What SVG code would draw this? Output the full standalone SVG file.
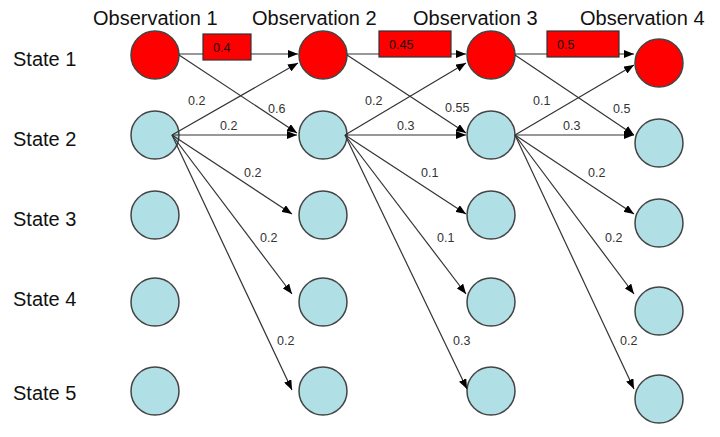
<svg xmlns="http://www.w3.org/2000/svg" width="720" height="437" viewBox="0 0 720 437">
<style>
.title{font-family:"Liberation Sans",Arial,sans-serif;font-size:20px;fill:#111}
.lab{font-family:"Liberation Sans",Arial,sans-serif;font-size:12.5px;fill:#333}
.bl{font-family:"Liberation Sans",Arial,sans-serif;font-size:12.5px;fill:#111}
.red{fill:#ff0000;stroke:#444;stroke-width:1.5}
.blue{fill:#b0e0e6;stroke:#444;stroke-width:1.5}
.box{fill:#ff0000;stroke:#333;stroke-width:1.2}
.ln{stroke:#333;stroke-width:1.2;fill:none;marker-end:url(#ah)}
</style>
<defs>
<marker id="ah" markerUnits="userSpaceOnUse" markerWidth="10" markerHeight="8" refX="10" refY="4" orient="auto">
<path d="M0,0 L10,4 L0,8 z" fill="#000"/>
</marker>
</defs>
<rect width="720" height="437" fill="#fff"/>
<g id="titles">
<text class="title" x="93" y="25">Observation 1</text>
<text class="title" x="252" y="25">Observation 2</text>
<text class="title" x="413" y="25">Observation 3</text>
<text class="title" x="580" y="25">Observation 4</text>
<text class="title" x="13" y="66">State 1</text>
<text class="title" x="13" y="146">State 2</text>
<text class="title" x="13" y="226">State 3</text>
<text class="title" x="13" y="306">State 4</text>
<text class="title" x="13" y="400">State 5</text>
</g>
<g id="o1s1"><circle class="red" cx="155" cy="55" r="24"/></g>
<g id="o1s2"><circle class="blue" cx="155" cy="135" r="24"/></g>
<g id="o1s3"><circle class="blue" cx="155" cy="215" r="24"/></g>
<g id="o1s4"><circle class="blue" cx="155" cy="302" r="24"/></g>
<g id="o1s5"><circle class="blue" cx="155" cy="391" r="24"/></g>
<g id="o2s1"><circle class="red" cx="323" cy="55" r="24"/></g>
<g id="o2s2"><circle class="blue" cx="323" cy="135" r="24"/></g>
<g id="o2s3"><circle class="blue" cx="323" cy="215" r="24"/></g>
<g id="o2s4"><circle class="blue" cx="323" cy="302" r="24"/></g>
<g id="o2s5"><circle class="blue" cx="323" cy="391" r="24"/></g>
<g id="o3s1"><circle class="red" cx="491" cy="55" r="24"/></g>
<g id="o3s2"><circle class="blue" cx="491" cy="135" r="24"/></g>
<g id="o3s3"><circle class="blue" cx="491" cy="215" r="24"/></g>
<g id="o3s4"><circle class="blue" cx="491" cy="302" r="24"/></g>
<g id="o3s5"><circle class="blue" cx="491" cy="391" r="24"/></g>
<g id="o4s1"><circle class="red" cx="659" cy="63" r="24"/></g>
<g id="o4s2"><circle class="blue" cx="659" cy="143" r="24"/></g>
<g id="o4s3"><circle class="blue" cx="659" cy="223" r="24"/></g>
<g id="o4s4"><circle class="blue" cx="659" cy="311" r="24"/></g>
<g id="o4s5"><circle class="blue" cx="659" cy="399" r="24"/></g>
<g id="connectors">
<line class="ln" x1="179" y1="54" x2="298" y2="54"/>
<line class="ln" x1="347" y1="54" x2="466" y2="54"/>
<line class="ln" x1="515" y1="54" x2="634" y2="54"/>
<line class="ln" x1="179" y1="55" x2="297" y2="133"/>
<line class="ln" x1="172" y1="135" x2="298" y2="63"/>
<line class="ln" x1="172" y1="135" x2="297" y2="135"/>
<line class="ln" x1="172" y1="135" x2="292" y2="214"/>
<line class="ln" x1="172" y1="135" x2="292" y2="294"/>
<line class="ln" x1="172" y1="135" x2="292" y2="390"/>
<line class="ln" x1="347" y1="55" x2="466" y2="133"/>
<line class="ln" x1="345" y1="135" x2="466" y2="63"/>
<line class="ln" x1="345" y1="135" x2="466" y2="135"/>
<line class="ln" x1="345" y1="135" x2="466" y2="214"/>
<line class="ln" x1="345" y1="135" x2="466" y2="294"/>
<line class="ln" x1="345" y1="135" x2="467" y2="389"/>
<line class="ln" x1="515" y1="55" x2="634" y2="135"/>
<line class="ln" x1="515" y1="135" x2="634" y2="65"/>
<line class="ln" x1="515" y1="135" x2="634" y2="135"/>
<line class="ln" x1="515" y1="135" x2="634" y2="214"/>
<line class="ln" x1="515" y1="135" x2="634" y2="294"/>
<line class="ln" x1="515" y1="135" x2="634" y2="389"/>
<text class="lab" x="188" y="105">0.2</text>
<text class="lab" x="268" y="113">0.6</text>
<text class="lab" x="220" y="130">0.2</text>
<text class="lab" x="244" y="177">0.2</text>
<text class="lab" x="260" y="242">0.2</text>
<text class="lab" x="277" y="345">0.2</text>
<text class="lab" x="365" y="105">0.2</text>
<text class="lab" x="445" y="112">0.55</text>
<text class="lab" x="397" y="130">0.3</text>
<text class="lab" x="421" y="177">0.1</text>
<text class="lab" x="437" y="242">0.1</text>
<text class="lab" x="453" y="345">0.3</text>
<text class="lab" x="533" y="105">0.1</text>
<text class="lab" x="613" y="113">0.5</text>
<text class="lab" x="563" y="130">0.3</text>
<text class="lab" x="588" y="177">0.2</text>
<text class="lab" x="605" y="242">0.2</text>
<text class="lab" x="620" y="345">0.2</text>
</g>
<g id="box1"><rect class="box" x="203" y="34" width="48" height="26"/><text class="bl" x="213" y="52">0.4</text></g>
<g id="box2"><rect class="box" x="379" y="31" width="72" height="26"/><text class="bl" x="389" y="49">0.45</text></g>
<g id="box3"><rect class="box" x="547" y="31" width="72" height="26"/><text class="bl" x="557" y="49">0.5</text></g>
</svg>
